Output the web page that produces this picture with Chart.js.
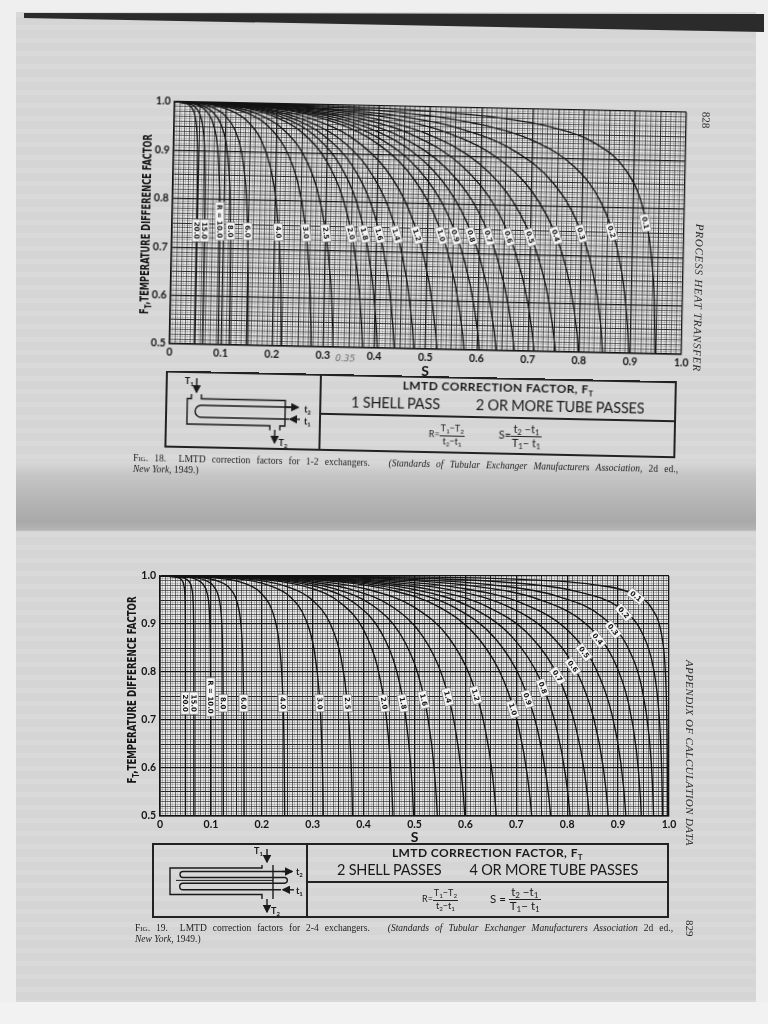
<!DOCTYPE html>
<html><head><meta charset="utf-8">
<script src="https://cdn.jsdelivr.net/npm/chart.js@4.4.1/dist/chart.umd.min.js"></script>
<style>
html,body{margin:0;padding:0}
body{width:768px;height:1024px;position:relative;overflow:hidden;background:#efefef;font-family:Lato,"DejaVu Sans",sans-serif;color:#1a1a1a}
.abs{position:absolute}
#page{left:16px;top:12px;width:740px;height:990px;background:#d8d8d8;background-image:repeating-linear-gradient(180deg,rgba(255,255,255,0.035) 0 5px,rgba(0,0,0,0.015) 5px 13px)}
#band{left:24px;top:11px;width:740px;height:24px;background:#2b2b2b;clip-path:polygon(0 2px,100% 3px,100% 21px,0 7px)}
#gutter{left:16px;top:462px;width:740px;height:70px;background:linear-gradient(180deg,#d8d8d8 0%,#c6c6c6 18%,#bcbcbc 40%,#b2b2b2 62%,#a9a9a9 85%,#b4b4b4 97%,#dcdcdc 100%)}
.box{box-sizing:border-box;border:2px solid #222}
.vline{background:#222}
.t1{font-weight:700;font-size:12px;letter-spacing:0.4px;text-align:center;white-space:nowrap}
.t1 sub{font-size:8px;vertical-align:-3px}
.t2{font-size:14.5px;text-align:center;white-space:nowrap;letter-spacing:-0.2px}
.frm{white-space:nowrap;font-size:9px}
.frac{display:inline-block;vertical-align:middle;text-align:center;line-height:1.05}
.frac .n{display:block;border-bottom:1px solid #222;padding:0 1px}
.frac .d{display:block;padding:0 1px}
.frm sub{font-size:70%;vertical-align:-2px}
.cap{font-family:"Liberation Serif","DejaVu Serif",serif;font-size:9.5px;line-height:10.5px;color:#222}
.cap .l1{text-align:justify;text-align-last:justify;white-space:nowrap}
.sc{font-variant:small-caps}
.side{font-family:"Liberation Serif","DejaVu Serif",serif;font-style:italic;writing-mode:vertical-rl;font-size:11px;letter-spacing:0.8px;color:#2a2a2a;white-space:nowrap}
svg text{font-family:Lato,"DejaVu Sans",sans-serif;font-weight:700;font-size:9px;fill:#1a1a1a}
</style></head>
<body>
<div id="page" class="abs"></div>
<div class="abs" style="left:0;top:1002px;width:768px;height:22px;background:#f2f2f2"></div>
<div id="gutter" class="abs"></div>
<div id="band" class="abs"></div>

<!-- ===== top figure (slightly rotated scan) ===== -->
<div id="g1" class="abs" style="left:0;top:0;width:768px;height:520px;transform-origin:427px 229px;transform:rotate(1.2deg)">
  <div class="abs" style="left:120px;top:90px;width:590px;height:290px"><canvas id="c1" width="590" height="290"></canvas></div>
  <div class="abs" style="left:338px;top:355px;font:italic 9px 'DejaVu Sans',sans-serif;color:#6a6a6a">0.35</div>
  <div class="box abs" style="left:169px;top:376px;width:511px;height:77px">
    <svg class="abs" style="left:0;top:0" width="155" height="73" viewBox="0 0 155 73">
      <defs><marker id="ah" markerWidth="6" markerHeight="6" refX="5" refY="3" orient="auto"><path d="M0,0 L6,3 L0,6 z" fill="#1a1a1a"/></marker></defs>
      <g fill="none" stroke="#1a1a1a" stroke-width="1.4">
        <path d="M24,21 V25.5 H20 V51 H103 V55.5 M113,55.5 V51 H118 V25.5 H34 V21"/>
        <path d="M130,32 H34 A6,6 0 0 0 34,44 H122" />
        <path d="M118,32 H131" marker-end="url(#ah)"/>
        <path d="M133,44 H123" marker-end="url(#ah)"/>
        <path d="M29,5 V19" marker-end="url(#ah)"/>
        <path d="M108,55 V68" marker-end="url(#ah)"/>
      </g>
      <text x="17" y="11">T<tspan font-size="6" dy="2">1</tspan></text>
      <text x="137" y="37">t<tspan font-size="6" dy="2">2</tspan></text>
      <text x="137" y="49">t<tspan font-size="6" dy="2">1</tspan></text>
      <text x="112" y="71">T<tspan font-size="6" dy="2">2</tspan></text>
    </svg>
    <div class="abs vline" style="left:152px;top:0;width:2px;height:73px"></div>
    <div class="abs vline" style="left:154px;top:37px;width:353px;height:2px"></div>
    <div class="abs t1" style="left:154px;width:353px;top:0px">LMTD CORRECTION FACTOR, F<sub>T</sub></div>
    <div class="abs t2" style="left:154px;width:353px;top:17px">1 SHELL PASS<span style="display:inline-block;width:36px"></span>2 OR MORE TUBE PASSES</div>
    <div class="abs frm" style="left:262px;top:45px">R=<span class="frac"><span class="n">T<sub>1</sub>−T<sub>2</sub></span><span class="d">t<sub>2</sub>−t<sub>1</sub></span></span></div>
    <div class="abs frm" style="left:332px;top:43px;font-size:11px">S=<span class="frac"><span class="n">t<sub>2</sub> −t<sub>1</sub></span><span class="d">T<sub>1</sub>− t<sub>1</sub></span></span></div>
  </div>
  <div class="cap abs" style="left:138px;top:459px;width:545px">
    <div class="l1"><span class="sc">Fig.</span> 18. &nbsp;LMTD correction factors for 1-2 exchangers. &nbsp;&nbsp;<i>(Standards of Tubular Exchanger Manufacturers Association,</i> 2d ed.,</div>
    <div><i>New York,</i> 1949.)</div>
  </div>
  <div class="side abs" style="left:698px;top:106px;font-style:normal;font-size:11px;letter-spacing:0">828</div>
  <div class="side abs" style="left:694px;top:218px">PROCESS HEAT TRANSFER</div>
</div>

<!-- ===== bottom figure ===== -->
<div id="g2" class="abs" style="left:0;top:0;width:768px;height:1024px">
  <div class="abs" style="left:105px;top:560px;width:590px;height:290px"><canvas id="c2" width="590" height="290"></canvas></div>
  <div class="box abs" style="left:152px;top:843px;width:517px;height:75px">
    <svg class="abs" style="left:0;top:0" width="154" height="71" viewBox="0 0 154 71">
      <g fill="none" stroke="#1a1a1a" stroke-width="1.4">
        <path d="M108,20 V23 H16 V49.5 H108 V54 M119,54 V49.5 V23 V20"/>
        <path d="M138,26.5 H29 A3,3 0 0 0 29,32.5 H131 A2.9,2.9 0 0 1 131,38.2 H29 A3.3,3.3 0 0 0 29,44.8 H127"/>
        <path d="M22,35.4 H119" stroke-width="1"/>
      </g>
      <g fill="none" stroke="#1a1a1a" stroke-width="1.4">
        <path d="M128,26.5 H138" marker-end="url(#ah)"/>
        <path d="M140,44.8 H129" marker-end="url(#ah)"/>
        <path d="M113,4 V17" marker-end="url(#ah)"/>
        <path d="M113,54 V67" marker-end="url(#ah)"/>
      </g>
      <text x="100" y="9">T<tspan font-size="6" dy="2">1</tspan></text>
      <text x="142" y="30">t<tspan font-size="6" dy="2">2</tspan></text>
      <text x="142" y="49">t<tspan font-size="6" dy="2">1</tspan></text>
      <text x="117" y="69">T<tspan font-size="6" dy="2">2</tspan></text>
    </svg>
    <div class="abs vline" style="left:152px;top:0;width:2px;height:71px"></div>
    <div class="abs vline" style="left:154px;top:36px;width:359px;height:2px"></div>
    <div class="abs t1" style="left:154px;width:359px;top:0px">LMTD CORRECTION FACTOR, F<sub>T</sub></div>
    <div class="abs t2" style="left:154px;width:359px;top:16px">2 SHELL PASSES<span style="display:inline-block;width:28px"></span>4 OR MORE TUBE PASSES</div>
    <div class="abs frm" style="left:268px;top:43px">R=<span class="frac"><span class="n">T<sub>1</sub>−T<sub>2</sub></span><span class="d">t<sub>2</sub>−t<sub>1</sub></span></span></div>
    <div class="abs frm" style="left:336px;top:41px;font-size:11.5px">S = <span class="frac"><span class="n">t<sub>2</sub> −t<sub>1</sub></span><span class="d">T<sub>1</sub>− t<sub>1</sub></span></span></div>
  </div>
  <div class="cap abs" style="left:135px;top:923px;width:538px">
    <div class="l1"><span class="sc">Fig.</span> 19. &nbsp;LMTD correction factors for 2-4 exchangers. &nbsp;&nbsp;<i>(Standards of Tubular Exchanger Manufacturers Association</i> 2d ed.,</div>
    <div><i>New York,</i> 1949.)</div>
  </div>
  <div class="side abs" style="left:684px;top:660px;letter-spacing:0.4px">APPENDIX OF CALCULATION DATA</div>
  <div class="side abs" style="left:684px;top:920px;font-style:normal;letter-spacing:0">829</div>
</div>

<script>
// ---------------- data ----------------
// curve parameter R, left to right
const R_LABELS = ['20.0','15.0','R = 10.0','8.0','6.0','4.0','3.0','2.5','2.0','1.8','1.6','1.4','1.2','1.0','0.9','0.8','0.7','0.6','0.5','0.4','0.3','0.2','0.1'];

// F_T values along each curve (same sequence of F_T is used for both figures)
const FT_VALUES = [
  [1,.999,.9961,.991,.9800,.9615,.9298,.8801,.8024,.6917,.5514,.4727],
  [1,.9985,.9949,.9882,.9742,.9508,.9127,.8558,.7709,.6601,.5238,.455],
  [1,.9981,.9925,.9825,.9626,.9301,.8785,.8072,.7120,.597,.4686],
  [1,.9977,.9910,.9790,.9555,.9181,.8609,.7852,.6880,.5733,.450],
  [1,.9970,.9885,.9732,.9437,.8982,.8316,.7484,.6480,.5365,.418],
  [1,.9959,.9841,.9631,.9237,.8654,.7856,.6932,.5900,.4828,.370],
  [1,.9949,.9805,.9557,.9086,.8419,.7545,.6587,.5555,.4515],
  [1,.9944,.9784,.9505,.8997,.8285,.7376,.6398,.5374,.4361],
  [1,.9936,.9753,.9434,.8863,.8084,.7122,.6124,.5110,.4129],
  [1,.9934,.9746,.9420,.8837,.8047,.7069,.6065,.5056,.408],
  [1,.9930,.9732,.9390,.8782,.7968,.6981,.5977,.4972,.401],
  [1,.9927,.9720,.9364,.8734,.7898,.6897,.5889,.4889,.395],
  [1,.9925,.9713,.9347,.8703,.7854,.6846,.5835,.4838,.390],
  [1,.9924,.9707,.9335,.8682,.7824,.6810,.5799,.4805,.3867],
  [1,.9924,.9708,.9337,.8687,.7830,.6818,.5806,.4813,.3875],
  [1,.9925,.9714,.9350,.8710,.7864,.6857,.5847,.4851,.391],
  [1,.9927,.9720,.9364,.8734,.7898,.6897,.5889,.4889,.395],
  [1,.9931,.9736,.9399,.8798,.7991,.7010,.6006,.5000,.404],
  [1,.9936,.9753,.9434,.8863,.8084,.7122,.6124,.5110,.4129],
  [1,.9944,.9784,.9505,.8997,.8285,.7376,.6398,.5374,.4361],
  [1,.9952,.9816,.9577,.9131,.8486,.7630,.6673,.5639,.4593],
  [1,.9965,.9865,.9685,.9343,.8822,.8082,.7190,.6160,.5062,.3933],
  [1,.9981,.9925,.9825,.9626,.9301,.8785,.8072,.7120,.597,.4686]
];

// S values for Fig. 18 (1 shell pass, 2 or more tube passes)
const S_1_2 = [
  [0,.01463,.02438,.03169,.03803,.04241,.04534,.04704,.04802,.04851,.04870,.04874],
  [0,.01933,.03222,.04189,.05027,.05607,.05994,.06219,.06348,.06412,.06438,.06443],
  [0,.02850,.04751,.06176,.07411,.08266,.08836,.09169,.09359,.09454,.09492],
  [0,.03517,.05861,.07619,.09143,.10198,.10901,.11312,.11546,.11663,.11710],
  [0,.04586,.07644,.09937,.11924,.13300,.14217,.14752,.15058,.15211,.15272],
  [0,.06577,.10961,.14250,.17100,.19073,.20388,.21155,.21594,.21813,.21901],
  [0,.08377,.13962,.18151,.21781,.24294,.25969,.26947,.27505,.27784],
  [0,.09689,.16148,.20993,.25192,.28098,.30036,.31166,.31812,.32135],
  [0,.11459,.19099,.24828,.29794,.33231,.35523,.36860,.37624,.38006],
  [0,.12348,.20580,.26754,.32104,.35809,.38278,.39719,.40542,.40954],
  [0,.13373,.22288,.28974,.34769,.38781,.41455,.43015,.43907,.44353],
  [0,.14561,.24269,.31550,.37860,.42229,.45141,.46839,.47810,.48296],
  [0,.15949,.26582,.34556,.41467,.46252,.49441,.51302,.52365,.52897],
  [0,.17574,.29289,.38076,.45691,.50963,.54478,.56528,.57700,.58286],
  [0,.18488,.30813,.40057,.48069,.53615,.57313,.59470,.60702,.61318],
  [0,.19477,.32461,.42199,.50639,.56482,.60377,.62650,.63948,.64597],
  [0,.20543,.34239,.44511,.53413,.59576,.63684,.66081,.67451,.68135],
  [0,.21690,.36151,.46996,.56395,.62902,.67240,.69771,.71217,.71940],
  [0,.22918,.38197,.49656,.59587,.66462,.71046,.73719,.75247,.76011],
  [0,.24223,.40371,.52482,.62979,.70245,.75090,.77916,.79531,.80338],
  [0,.25597,.42662,.55460,.66552,.74231,.79350,.82337,.84043,.84896],
  [0,.27029,.45049,.58564,.70276,.78385,.83791,.86945,.88747,.89648,.90008],
  [0,.28504,.47506,.61758,.74109,.82660,.88361,.91687,.93587,.94537,.94917]
];

// S values for Fig. 19 (2 shell passes, 4 or more tube passes)
const S_2_4 = [
  [0,.02486,.03671,.04316,.04705,.04881,.04955,.04982,.04992,.04995,.04996,.04997],
  [0,.03287,.04859,.05721,.06247,.06490,.06595,.06635,.06650,.06656,.06658,.06659],
  [0,.04846,.07181,.08480,.09291,.09677,.09853,.09925,.09955,.09967,.09972],
  [0,.05979,.08874,.10501,.11534,.12038,.12274,.12374,.12419,.12437,.12444],
  [0,.07799,.11604,.13778,.15191,.15906,.16257,.16414,.16487,.16519,.16531],
  [0,.11185,.16719,.19969,.22173,.23355,.23980,.24280,.24430,.24498,.24525],
  [0,.14248,.21377,.25659,.28665,.30355,.31294,.31769,.32015,.32131],
  [0,.16480,.24786,.29850,.33484,.35588,.36795,.37424,.37756,.37916],
  [0,.19491,.29399,.35546,.40072,.42782,.44393,.45258,.45727,.45954],
  [0,.21003,.31719,.38416,.43402,.46431,.48258,.49251,.49794,.50058],
  [0,.22746,.34393,.41726,.47245,.50646,.52726,.53871,.54502,.54811],
  [0,.24769,.37494,.45559,.51692,.55520,.57892,.59211,.59944,.60304],
  [0,.27130,.41103,.50006,.56831,.61136,.63827,.65338,.66182,.66598],
  [0,.29894,.45308,.55152,.62723,.67518,.70532,.72228,.73177,.73647],
  [0,.31449,.47659,.58004,.65951,.70975,.74130,.75903,.76894,.77384],
  [0,.33131,.50186,.61041,.69347,.74573,.77837,.79664,.80684,.81185],
  [0,.34944,.52889,.64252,.72880,.78256,.81582,.83430,.84455,.84958],
  [0,.36894,.55764,.67614,.76502,.81953,.85273,.87092,.88092,.88580],
  [0,.38981,.58798,.71091,.80143,.85564,.88786,.90516,.91453,.91908],
  [0,.41199,.61965,.74625,.83710,.88969,.91988,.93559,.94391,.94789],
  [0,.43532,.65224,.78145,.87098,.92044,.94743,.96084,.96769,.97090],
  [0,.45963,.68526,.81566,.90196,.94673,.96944,.97992,.98497,.98723,.98809],
  [0,.48464,.71808,.84795,.92907,.96773,.98531,.99246,.99549,.99672,.99716]
];

// where each curve label sits (F_T level, or S value for the slanted ones)
const LABEL_AT_F_1_2 = [.735,.735,.755,.735,.735,.735,.735,.735,.735,.735,.735,.735,.735,.735,.735,.735,.735,.735,.735,.74,.745,.75,.77];
const LABEL_AT_F_2_4 = [.735,.735,.748,.735,.735,.735,.735,.735,.735,.735,.742,.748,.752,null,null,null,null,null,null,null,null,null,null];
const LABEL_AT_S_2_4 = [null,null,null,null,null,null,null,null,null,null,null,null,null,.693,.722,.752,.781,.811,.833,.860,.890,.911,.935];

const X_TICK_STEP = 0.005, Y_TICK_STEP = 0.005;

// ---------------- drawing ----------------
function gridStyle(v){
  const k = Math.round(v*1000);
  if (k % 100 === 0) return ['#141414', 1.3];
  if (k % 50 === 0)  return ['#262626', 1.0];
  if (k % 10 === 0)  return ['rgba(30,30,30,0.80)', 0.75];
  return ['rgba(55,55,55,0.42)', 0.5];
}

function makeOverlay(spec){
  return {
    id: 'overlay_' + spec.name,
    beforeDraw(chart){
      const {ctx, chartArea:a} = chart;
      ctx.save(); ctx.fillStyle = '#e6e6e6';
      ctx.fillRect(a.left, a.top, a.right-a.left, a.bottom-a.top); ctx.restore();
    },
    afterDatasetsDraw(chart){
      const {ctx, chartArea:a, scales:{x, y}} = chart;
      chart.data.datasets.forEach((ds, i) => {
        const fAt = spec.atF[i], sAt = spec.atS ? spec.atS[i] : null;
        const pts = ds.data; let k = -1, t = 0;
        for (let j = 0; j < pts.length-1; j++){
          const p = pts[j], q = pts[j+1];
          if (fAt != null){ if (p.y >= fAt && q.y <= fAt){ k = j; t = (p.y-fAt)/(p.y-q.y); break; } }
          else if (sAt != null){ if (p.x <= sAt && q.x >= sAt){ k = j; t = (sAt-p.x)/(q.x-p.x); break; } }
        }
        if (k < 0) return;
        const p = pts[k], q = pts[k+1];
        const x1 = x.getPixelForValue(p.x), y1 = y.getPixelForValue(p.y);
        const x2 = x.getPixelForValue(q.x), y2 = y.getPixelForValue(q.y);
        const px = x1+(x2-x1)*t, py = y1+(y2-y1)*t;
        let ang = Math.atan2(y2-y1, x2-x1);
        if (ang < spec.minAngle) ang = spec.minAngle;
        const txt = spec.texts[i];
        ctx.save(); ctx.translate(px, py); ctx.rotate(ang);
        ctx.font = 'bold 7px "DejaVu Sans", sans-serif';
        const w = ctx.measureText(txt).width + 5, h = 9;
        ctx.fillStyle = '#f4f4f4'; ctx.fillRect(-w/2, -h/2, w, h);
        ctx.strokeStyle = '#8a8a8a'; ctx.lineWidth = 0.7; ctx.strokeRect(-w/2, -h/2, w, h);
        ctx.fillStyle = '#111'; ctx.textAlign = 'center'; ctx.textBaseline = 'middle';
        ctx.fillText(txt, 0, 0.5);
        ctx.restore();
      });
      // y-axis title  F_T, TEMPERATURE DIFFERENCE FACTOR
      ctx.save();
      ctx.translate(a.left - spec.titleDX, (a.top+a.bottom)/2 + spec.titleDY);
      ctx.rotate(-Math.PI/2);
      const big = 'bold 12px "DejaVu Sans", sans-serif', small = 'bold 8px "DejaVu Sans", sans-serif';
      const rest = ',TEMPERATURE DIFFERENCE FACTOR';
      ctx.font = big; const wF = ctx.measureText('F').width, wR = ctx.measureText(rest).width;
      ctx.font = small; const wT = ctx.measureText('T').width;
      const tot = wF + wT + wR;
      ctx.scale(spec.titleLen/tot, 1);
      ctx.fillStyle = '#161616'; ctx.textBaseline = 'middle'; ctx.textAlign = 'left';
      let x0 = -tot/2;
      ctx.font = big; ctx.fillText('F', x0, 0);
      ctx.font = small; ctx.fillText('T', x0+wF, 4);
      ctx.font = big; ctx.fillText(rest, x0+wF+wT, 0);
      ctx.restore();
    }
  };
}

function makeChart(id, S, spec, dims){
  const datasets = S.map((sArr, i) => ({
    label: 'R = ' + R_LABELS[i].replace('R = ',''),
    data: sArr.map((s, j) => ({x: s, y: FT_VALUES[i][j]})),
    showLine: true, borderColor: '#141414', borderWidth: 1.35,
    pointRadius: 0, pointHoverRadius: 0, fill: false,
    cubicInterpolationMode: 'monotone'
  }));
  const tickFont = {family: 'Lato, "DejaVu Sans", sans-serif', size: 10.5, weight: 'bold'};
  return new Chart(document.getElementById(id), {
    type: 'scatter',
    data: {datasets},
    plugins: [makeOverlay(spec)],
    options: {
      responsive: false, animation: false, devicePixelRatio: 1,
      layout: {padding: {left: 0, top: dims.top, right: dims.right, bottom: 0}},
      plugins: {legend: {display: false}, tooltip: {enabled: false}},
      scales: {
        x: {
          type: 'linear', min: 0, max: 1,
          afterFit: s => { s.height = dims.xh; },
          border: {display: true, color: '#111', width: 1.6},
          grid: {drawTicks: false, color: c => gridStyle(c.tick.value)[0], lineWidth: c => gridStyle(c.tick.value)[1]},
          ticks: {stepSize: X_TICK_STEP, autoSkip: false, maxRotation: 0, minRotation: 0, padding: 2, color: '#151515', font: tickFont,
            callback: v => { const k = Math.round(v*1000); if (k % 100) return ''; return k === 0 ? '0' : (k/1000).toFixed(1); }},
          title: {display: true, text: 'S', color: '#151515', font: {family: 'Lato, "DejaVu Sans", sans-serif', size: 14, weight: 'bold'}, padding: {top: 0, bottom: dims.sPad}}
        },
        y: {
          type: 'linear', min: 0.5, max: 1,
          afterFit: s => { s.width = dims.yw; },
          border: {display: true, color: '#111', width: 1.6},
          grid: {drawTicks: false, color: c => gridStyle(c.tick.value)[0], lineWidth: c => gridStyle(c.tick.value)[1]},
          ticks: {stepSize: Y_TICK_STEP, autoSkip: false, padding: 4, color: '#151515', font: tickFont,
            callback: v => { const k = Math.round(v*1000); if (k % 100) return ''; return (k/1000).toFixed(1); }}
        }
      }
    }
  });
}

makeChart('c1', S_1_2,
  {name: 'a', texts: R_LABELS, atF: LABEL_AT_F_1_2, atS: null, minAngle: 1.25, titleDX: 25, titleDY: 2, titleLen: 180},
  {top: 17, right: 26, xh: 31, yw: 52, sPad: 0});
makeChart('c2', S_2_4,
  {name: 'b', texts: R_LABELS, atF: LABEL_AT_F_2_4, atS: LABEL_AT_S_2_4, minAngle: 0, titleDX: 27, titleDY: -6, titleLen: 187},
  {top: 16, right: 26, xh: 34, yw: 55, sPad: 4});
</script>
</body></html>
